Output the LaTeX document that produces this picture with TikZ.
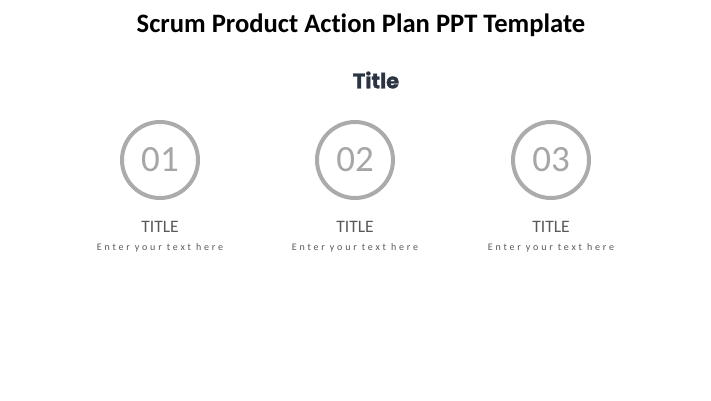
\documentclass[tikz,border=0pt]{standalone}
\usepackage{fontspec}
\setmainfont[Ligatures=NoCommon]{Carlito}
\newfontfamily\titlefont[FakeBold=1.2]{Poppins}
\newfontfamily\spacedfont[LetterSpace=28]{Carlito}
\definecolor{ringgray}{HTML}{ABABAB}
\definecolor{numgray}{HTML}{A6A6A6}
\definecolor{navy}{HTML}{2B3442}
\definecolor{txtgray}{HTML}{595959}
\begin{document}
\begin{tikzpicture}[x=1pt,y=-1pt,
  ring/.style={circle,draw=ringgray,line width=4pt,minimum size=76pt,inner sep=0pt,text=numgray,font=\fontsize{37}{37}\selectfont},
  itemtitle/.style={text=txtgray,font=\fontsize{17.5}{18}\selectfont,inner sep=0pt},
  itemtext/.style={text=txtgray,font=\spacedfont\fontsize{10}{12}\selectfont,inner sep=0pt}]
\useasboundingbox (0,0) rectangle (711,400);
\node[font=\bfseries\fontsize{26.6}{28}\selectfont,inner sep=0pt] (head) at (361,25) {Scrum Product Action Plan PPT Template};
\node[font=\titlefont\bfseries\fontsize{21}{24}\selectfont,text=navy,inner sep=0pt] (title) at (376,80) {Title};
\foreach \n/\x in {1/160,2/355,3/551}{
  \node[ring] (c\n) at (\x,160) {0\n};
  \node[itemtitle] (t\n) at (\x,227) {TITLE};
  \node[itemtext] (e\n) at (\x,248) {Enter your text here};
}
\end{tikzpicture}
\end{document}
